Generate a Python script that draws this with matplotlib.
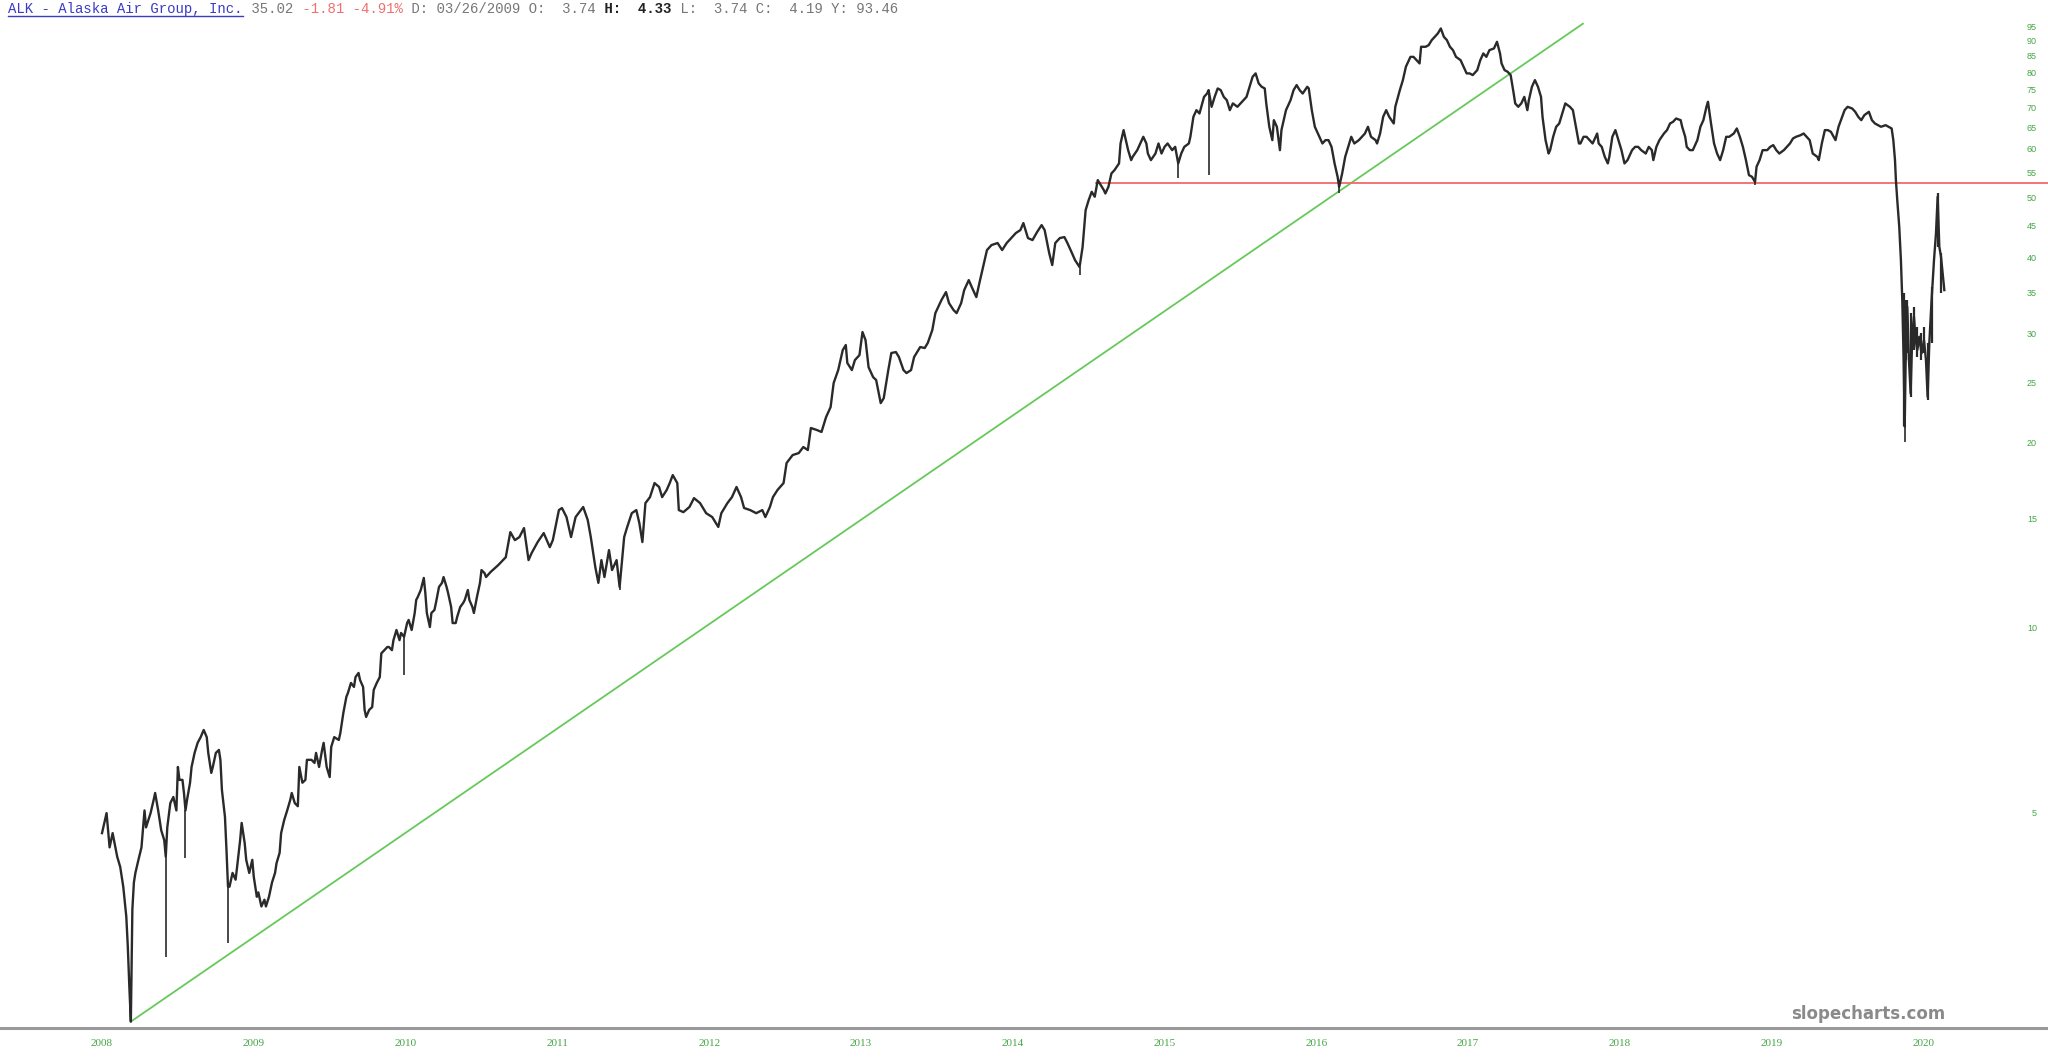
import numpy as np
import matplotlib
matplotlib.use('Agg')
import matplotlib.pyplot as plt
from matplotlib.ticker import NullLocator

# ALK closes, as (decimal year, price)
dates_a = [2008.00, 2008.03, 2008.05, 2008.07, 2008.10, 2008.12, 2008.14, 2008.16, 2008.17, 2008.18,
           2008.19, 2008.20, 2008.21, 2008.22, 2008.24, 2008.26, 2008.28, 2008.29, 2008.32, 2008.34,
           2008.35, 2008.37, 2008.39, 2008.41, 2008.42, 2008.43, 2008.45, 2008.47, 2008.49, 2008.50,
           2008.51, 2008.53, 2008.54, 2008.55, 2008.56, 2008.58, 2008.59, 2008.61, 2008.63, 2008.65,
           2008.67, 2008.69, 2008.70, 2008.72, 2008.73, 2008.75, 2008.77, 2008.78, 2008.79, 2008.81,
           2008.82, 2008.83, 2008.84, 2008.86, 2008.88, 2008.89, 2008.91, 2008.92, 2008.94, 2008.95,
           2008.97, 2008.99, 2009.00, 2009.02, 2009.03, 2009.05, 2009.07, 2009.08, 2009.10, 2009.12,
           2009.14, 2009.15, 2009.17, 2009.18, 2009.20, 2009.22, 2009.24, 2009.25, 2009.27, 2009.29,
           2009.30, 2009.32, 2009.34, 2009.35, 2009.38, 2009.40]
prices_a = [4.62, 4.98, 4.38, 4.62, 4.23, 4.07, 3.78, 3.38, 3.02, 2.60,
            2.28, 3.47, 3.84, 3.98, 4.18, 4.38, 5.03, 4.72, 4.98, 5.23,
            5.37, 5.03, 4.67, 4.50, 4.23, 4.72, 5.17, 5.29, 5.03, 5.92,
            5.64, 5.64, 5.37, 5.03, 5.23, 5.58, 5.92, 6.24, 6.48, 6.62,
            6.80, 6.62, 6.24, 5.79, 5.92, 6.24, 6.31, 6.08, 5.43, 4.91,
            4.34, 3.78, 3.78, 3.98, 3.88, 4.07, 4.50, 4.80, 4.45, 4.18,
            3.98, 4.18, 3.92, 3.64, 3.70, 3.51, 3.60, 3.51, 3.64, 3.84,
            3.98, 4.13, 4.29, 4.62, 4.85, 5.03, 5.23, 5.37, 5.17, 5.11,
            5.92, 5.58, 5.64, 6.08, 6.08, 6.01]

dates_b = [2009.41, 2009.43, 2009.45, 2009.46, 2009.48, 2009.50, 2009.51, 2009.53, 2009.56, 2009.57,
           2009.59, 2009.61, 2009.62, 2009.64, 2009.66, 2009.67, 2009.69, 2009.70, 2009.72, 2009.73,
           2009.74, 2009.76, 2009.78, 2009.79, 2009.81, 2009.83, 2009.84, 2009.86, 2009.88, 2009.89,
           2009.91, 2009.92, 2009.94, 2009.96, 2009.97, 2009.99, 2010.01, 2010.02, 2010.04, 2010.06,
           2010.07, 2010.08, 2010.10, 2010.12, 2010.13, 2010.14, 2010.16, 2010.17, 2010.19, 2010.20,
           2010.22, 2010.24, 2010.25, 2010.27, 2010.28, 2010.30, 2010.31, 2010.33, 2010.34, 2010.36,
           2010.38, 2010.39, 2010.41, 2010.42, 2010.44, 2010.45, 2010.47, 2010.49, 2010.50, 2010.52,
           2010.53, 2010.56]
prices_b = [6.24, 5.92, 6.31, 6.48, 5.92, 5.70, 6.38, 6.62, 6.55, 6.72,
            7.25, 7.70, 7.81, 8.11, 7.99, 8.29, 8.42, 8.20, 7.99, 7.33,
            7.14, 7.33, 7.41, 7.90, 8.11, 8.29, 9.06, 9.17, 9.28, 9.28,
            9.17, 9.52, 9.89, 9.52, 9.78, 9.64, 10.15, 10.27, 9.89, 10.54,
            11.07, 11.19, 11.49, 12.02, 11.36, 10.54, 10.00, 10.54, 10.66, 10.95,
            11.62, 11.80, 12.06, 11.62, 11.36, 10.78, 10.15, 10.15, 10.39, 10.78,
            10.95, 11.07, 11.49, 11.07, 10.78, 10.54, 11.19, 11.80, 12.38, 12.24,
            12.06, 12.29]

dates_c = [2010.61, 2010.66, 2010.69, 2010.72, 2010.75, 2010.78, 2010.81, 2010.83, 2010.87, 2010.91,
           2010.95, 2010.97, 2011.01, 2011.03, 2011.06, 2011.09, 2011.12, 2011.17, 2011.20, 2011.22,
           2011.25, 2011.27, 2011.29, 2011.31, 2011.34, 2011.36, 2011.39, 2011.41, 2011.44, 2011.46,
           2011.49, 2011.52, 2011.54, 2011.56, 2011.58, 2011.61, 2011.64, 2011.67, 2011.69, 2011.72,
           2011.74, 2011.76, 2011.79, 2011.80, 2011.83, 2011.87, 2011.90, 2011.94, 2011.98, 2012.02,
           2012.06, 2012.08, 2012.12, 2012.15, 2012.18, 2012.21, 2012.23, 2012.27, 2012.31, 2012.35,
           2012.37, 2012.40, 2012.42, 2012.45, 2012.49, 2012.51, 2012.55, 2012.59, 2012.62, 2012.65,
           2012.67, 2012.71, 2012.74, 2012.77, 2012.80, 2012.82, 2012.85, 2012.88, 2012.90, 2012.91,
           2012.94, 2012.96, 2012.99, 2013.01, 2013.03, 2013.05, 2013.08, 2013.10, 2013.13, 2013.15,
           2013.18, 2013.20, 2013.23, 2013.25, 2013.28, 2013.30, 2013.33, 2013.35, 2013.39, 2013.42,
           2013.44, 2013.47, 2013.49, 2013.53, 2013.56, 2013.58, 2013.61, 2013.63, 2013.66, 2013.68,
           2013.71, 2013.73, 2013.76, 2013.78, 2013.81, 2013.83, 2013.86, 2013.90, 2013.93, 2013.96,
           2013.99, 2014.02, 2014.05, 2014.07, 2014.10, 2014.13, 2014.16, 2014.19, 2014.21, 2014.24,
           2014.26, 2014.28, 2014.31, 2014.34, 2014.36, 2014.39, 2014.41, 2014.44, 2014.46]
prices_c = [12.61, 12.99, 14.27, 13.85, 14.01, 14.49, 12.85, 13.19, 13.75, 14.22,
            13.49, 13.85, 15.50, 15.62, 15.10, 14.01, 15.10, 15.68, 14.93, 14.01,
            12.51, 11.80, 12.85, 12.06, 13.34, 12.38, 12.85, 11.62, 14.01, 14.55,
            15.32, 15.50, 14.76, 13.75, 15.91, 16.27, 17.15, 16.90, 16.27, 16.71,
            17.15, 17.67, 17.15, 15.50, 15.38, 15.68, 16.21, 15.91, 15.32, 15.10,
            14.55, 15.32, 15.91, 16.27, 16.90, 16.27, 15.62, 15.50, 15.32, 15.50,
            15.10, 15.68, 16.27, 16.71, 17.15, 18.49, 19.05, 19.19, 19.63, 19.41,
            21.08, 20.92, 20.77, 21.96, 22.80, 24.95, 26.19, 28.23, 28.77, 26.90,
            26.19, 27.19, 27.70, 30.20, 29.31, 26.48, 25.51, 25.23, 23.14, 23.58,
            26.19, 27.92, 28.02, 27.50, 26.19, 25.90, 26.19, 27.50, 28.55, 28.45,
            28.99, 30.43, 32.42, 34.04, 35.08, 33.66, 32.79, 32.42, 33.66, 35.34,
            36.69, 35.74, 34.43, 36.28, 39.11, 41.06, 41.84, 42.16, 41.06, 42.16,
            42.95, 43.76, 44.25, 45.43, 42.95, 42.63, 43.92, 45.09, 44.25, 40.60,
            38.82, 42.16, 42.95, 43.11, 42.16, 40.60, 39.55, 38.53, 41.53]

dates_d = [2014.48, 2014.50, 2014.52, 2014.54, 2014.56, 2014.58, 2014.60, 2014.61, 2014.63, 2014.65,
           2014.67, 2014.70, 2014.71, 2014.73, 2014.75, 2014.76, 2014.78, 2014.79, 2014.82, 2014.84,
           2014.86, 2014.88, 2014.89, 2014.91, 2014.94, 2014.96, 2014.98, 2015.00, 2015.02, 2015.05,
           2015.07, 2015.09, 2015.11, 2015.13, 2015.16, 2015.17, 2015.19, 2015.21, 2015.23, 2015.26,
           2015.28, 2015.29, 2015.31, 2015.33, 2015.35, 2015.37, 2015.39, 2015.41, 2015.43, 2015.45,
           2015.48, 2015.50, 2015.52, 2015.54, 2015.56, 2015.58, 2015.60, 2015.62, 2015.64, 2015.66,
           2015.67, 2015.69, 2015.71, 2015.72, 2015.74, 2015.76, 2015.77, 2015.79, 2015.80, 2015.83,
           2015.85, 2015.87, 2015.89, 2015.91, 2015.94, 2015.95, 2015.97, 2015.99, 2016.01, 2016.04,
           2016.06, 2016.08, 2016.10, 2016.12, 2016.14, 2016.15, 2016.17, 2016.19, 2016.21, 2016.23,
           2016.25, 2016.28, 2016.30, 2016.32, 2016.34, 2016.36, 2016.39, 2016.40, 2016.42, 2016.44,
           2016.46, 2016.48, 2016.51, 2016.52, 2016.55, 2016.57, 2016.59, 2016.62, 2016.64, 2016.66,
           2016.68, 2016.69, 2016.72, 2016.74, 2016.76, 2016.78, 2016.80, 2016.82, 2016.84, 2016.86,
           2016.88, 2016.90, 2016.92, 2016.95, 2016.97, 2016.99, 2017.01, 2017.03, 2017.06, 2017.08,
           2017.10, 2017.12, 2017.14, 2017.17, 2017.19, 2017.21, 2017.22, 2017.24, 2017.26, 2017.28]
prices_d = [47.69, 49.51, 51.08, 50.14, 53.37, 52.37, 51.40, 50.76, 52.03, 54.72,
            55.40, 56.81, 61.22, 64.36, 61.22, 59.71, 57.52, 58.24, 59.71, 61.22,
            62.77, 61.22, 58.96, 57.52, 58.96, 61.22, 58.96, 60.45, 61.22, 59.71,
            60.45, 56.81, 58.96, 60.45, 61.22, 62.77, 67.64, 69.36, 68.50, 72.90,
            73.82, 74.77, 70.24, 72.90, 75.24, 74.77, 72.90, 72.01, 69.36, 71.13,
            70.24, 71.13, 72.01, 72.90, 75.70, 78.59, 79.60, 76.67, 75.70, 75.24,
            71.13, 65.17, 61.99, 66.81, 65.17, 59.71, 64.36, 67.64, 69.36, 72.01,
            74.77, 76.19, 74.77, 73.82, 75.70, 75.24, 69.36, 65.17, 63.55, 61.22,
            61.99, 61.99, 60.45, 56.81, 54.03, 52.03, 54.72, 58.24, 60.45, 62.77,
            61.22, 61.99, 62.77, 63.55, 65.17, 62.77, 61.99, 61.22, 63.55, 67.64,
            69.36, 67.64, 65.98, 70.24, 74.77, 77.62, 81.63, 84.69, 84.69, 83.66,
            82.63, 87.95, 87.95, 88.50, 90.17, 91.30, 92.44, 94.20, 91.30, 90.17,
            87.95, 86.85, 84.69, 83.66, 81.63, 79.60, 79.60, 79.10, 80.58, 83.66,
            85.78, 84.69, 86.85, 87.40, 89.61, 85.78, 82.63, 80.58, 80.09, 79.10]

dates_e = [2017.30, 2017.31, 2017.33, 2017.35, 2017.37, 2017.39, 2017.40, 2017.42, 2017.44, 2017.46,
           2017.48, 2017.49, 2017.51, 2017.53, 2017.54, 2017.56, 2017.58, 2017.60, 2017.62, 2017.64,
           2017.67, 2017.69, 2017.71, 2017.73, 2017.74, 2017.76, 2017.78, 2017.80, 2017.82, 2017.85,
           2017.86, 2017.88, 2017.90, 2017.92, 2017.93, 2017.95, 2017.97, 2017.99, 2018.01, 2018.03,
           2018.05, 2018.08, 2018.10, 2018.12, 2018.14, 2018.17, 2018.19, 2018.21, 2018.22, 2018.24,
           2018.26, 2018.29, 2018.31, 2018.33, 2018.35, 2018.37, 2018.40, 2018.41, 2018.43, 2018.44,
           2018.46, 2018.48, 2018.51, 2018.53, 2018.55, 2018.57, 2018.58, 2018.60, 2018.62, 2018.64,
           2018.66, 2018.68, 2018.70, 2018.72, 2018.75, 2018.77, 2018.79, 2018.81, 2018.83, 2018.85,
           2018.87, 2018.89, 2018.90, 2018.92, 2018.94, 2018.97, 2018.99, 2019.01, 2019.03, 2019.05,
           2019.08, 2019.10, 2019.12, 2019.14, 2019.16, 2019.19, 2019.21, 2019.23, 2019.25, 2019.27,
           2019.30, 2019.31, 2019.33, 2019.35, 2019.37, 2019.39, 2019.42, 2019.44, 2019.46, 2019.48,
           2019.50, 2019.53, 2019.55, 2019.57, 2019.59, 2019.61, 2019.64, 2019.66, 2019.68, 2019.70,
           2019.72, 2019.75, 2019.77, 2019.79]
prices_e = [73.82, 71.13, 70.24, 71.13, 72.90, 69.36, 72.01, 75.70, 77.62, 75.70,
            72.90, 67.64, 61.99, 58.96, 59.71, 62.77, 65.17, 65.98, 68.50, 71.13,
            70.24, 69.36, 65.17, 61.22, 61.22, 62.77, 62.77, 61.99, 61.22, 63.55,
            61.22, 60.45, 58.24, 56.81, 58.24, 62.77, 64.36, 61.99, 59.71, 56.81,
            57.52, 59.71, 60.45, 60.45, 59.71, 58.96, 60.45, 59.71, 57.52, 60.45,
            61.99, 63.55, 64.36, 65.98, 66.40, 67.22, 66.81, 65.17, 62.77, 60.45,
            59.71, 59.71, 61.99, 65.17, 66.81, 70.24, 71.57, 65.98, 61.22, 58.96,
            57.52, 59.71, 62.77, 62.77, 63.55, 64.76, 62.77, 60.45, 57.52, 54.37,
            54.03, 53.00, 56.11, 57.52, 59.71, 59.71, 60.45, 60.84, 59.71, 58.96,
            59.71, 60.45, 61.22, 62.38, 62.77, 63.15, 63.55, 62.77, 61.99, 58.96,
            58.24, 57.52, 61.22, 64.36, 64.36, 63.95, 61.99, 65.17, 67.22, 69.36,
            70.24, 69.79, 68.93, 67.64, 66.81, 68.07, 68.93, 66.81, 65.98, 65.57,
            65.17, 65.57, 65.17, 64.76]

# 2020 crash
dates_f = [2019.801, 2019.812, 2019.818, 2019.827, 2019.840, 2019.851, 2019.860, 2019.869, 2019.876, 2019.884,
           2019.893, 2019.904, 2019.915, 2019.926, 2019.937, 2019.948, 2019.959, 2019.972, 2019.987, 2020.003,
           2020.016, 2020.027, 2020.038, 2020.053, 2020.069, 2020.082, 2020.093, 2020.104, 2020.115, 2020.126,
           2020.137]
prices_f = [61.99, 57.52, 53.37, 49.51, 44.81, 39.55, 34.04, 27.19, 21.20, 28.95,
            33.20, 27.19, 23.99, 30.05, 32.00, 29.31, 28.23, 29.67, 27.88, 29.31,
            27.19, 23.70, 28.95, 34.04, 39.55, 43.71, 50.14, 41.58, 40.07, 37.57,
            35.34]

# wide daily ranges during the crash
crash_bar_dates = [2019.869, 2019.884, 2019.893, 2019.915, 2019.937, 2019.959, 2019.981,
                   2020.003, 2020.027, 2020.053, 2020.093, 2020.115]
crash_highs = [34.9, 34.0, 34.0, 32.4, 33.2, 30.8, 30.1, 30.8, 28.95, 35.7, 50.8, 40.6]
crash_lows = [21.2, 27.2, 27.9, 23.7, 28.2, 27.5, 27.2, 27.9, 23.4, 29.0, 41.6, 34.9]

# long lower wicks
wick_dates = [2008.42, 2008.55, 2008.83, 2009.99, 2011.41, 2014.44, 2015.09, 2015.29, 2016.15, 2018.89, 2019.876]
wick_lows = [2.90, 4.21, 3.06, 8.36, 11.49, 37.39, 53.7, 54.4, 50.85, 52.4, 20.03]

# drawn lines
trend_dates = [2008.19, 2017.756]
trend_prices = [2.28, 95.9]
support_start = 2014.54
support_price = 52.8

years = list(range(2008, 2021))
price_ticks = [5, 10, 15, 20, 25, 30, 35, 40, 45, 50, 55, 60, 65, 70, 75, 80, 85, 90, 95]

dates = np.array(dates_a + dates_b + dates_c + dates_d + dates_e + dates_f)
prices = np.array(prices_a + prices_b + prices_c + prices_d + prices_e + prices_f)

W, H = 2048, 1063
fig = plt.figure(figsize=(W / 100, H / 100), dpi=100)
ax = fig.add_axes([0, 35 / H, 1, 1028 / H])

xmin, xmax = 2007.328, 2020.82
ax.set_yscale('log')
ax.set_xlim(xmin, xmax)
ax.set_ylim(2.226, 104.8)

bar_col = '#2a2a2a'
ax.plot(dates, prices, color=bar_col, linewidth=1.7, zorder=3)
ax.vlines(wick_dates, wick_lows, np.interp(wick_dates, dates, prices), color=bar_col, linewidth=1.2, zorder=3)
ax.vlines(crash_bar_dates, crash_lows, crash_highs, color=bar_col, linewidth=1.6, zorder=3)
ax.plot(trend_dates, trend_prices, color='#66c95a', linewidth=1.3, zorder=2)
ax.hlines(support_price, support_start, xmax, color='#f06a6a', linewidth=1.3, zorder=2)

for s in ['top', 'left', 'right']:
    ax.spines[s].set_visible(False)
ax.spines['bottom'].set_color('#999999')
ax.spines['bottom'].set_linewidth(2.2)

ax.yaxis.tick_right()
ax.set_yticks(price_ticks)
ax.set_yticklabels([str(t) for t in price_ticks])
ax.yaxis.set_minor_locator(NullLocator())
ax.tick_params(axis='y', length=0, pad=-8, labelsize=6.5, labelcolor='#45a545')
for lab in ax.get_yticklabels():
    lab.set_horizontalalignment('right')
    lab.set_fontfamily('Liberation Sans')

ax.set_xticks(years)
ax.set_xticklabels([str(y) for y in years])
ax.xaxis.set_minor_locator(NullLocator())
ax.tick_params(axis='x', length=0, pad=8, labelsize=8, labelcolor='#45a545')
for lab in ax.get_xticklabels():
    lab.set_fontfamily('Liberation Serif')

# header line, monospace pieces placed by character index
char_w = 8.4
fsize = char_w / (0.6 * 100 / 72)
pieces = [
    ('ALK - Alaska Air Group, Inc.', '#3b3bc4', 'normal'),
    (' 35.02', '#777777', 'normal'),
    (' -1.81 -4.91%', '#f07070', 'normal'),
    (' D: 03/26/2009 O:  3.74', '#777777', 'normal'),
    (' H:  4.33', '#222222', 'bold'),
    (' L:  3.74 C:  4.19 Y: 93.46', '#777777', 'normal'),
]
idx = 0
for txt, col, wt in pieces:
    fig.text((8 + idx * char_w) / W, 1 - 13 / H, txt, color=col, fontweight=wt,
             fontsize=fsize, family='Liberation Mono', va='baseline', ha='left')
    idx += len(txt)
fig.add_artist(plt.Line2D([8 / W, (8 + 28 * char_w) / W], [1 - 16 / H, 1 - 16 / H],
                          color='#3b3bc4', linewidth=1))

fig.text(1945 / W, 1 - 1019 / H, 'slopecharts.com', color='#8a8a8a', fontsize=12,
         fontweight='bold', family='DejaVu Sans', ha='right', va='baseline')

fig.savefig('out.png', dpi=100, facecolor='white')
